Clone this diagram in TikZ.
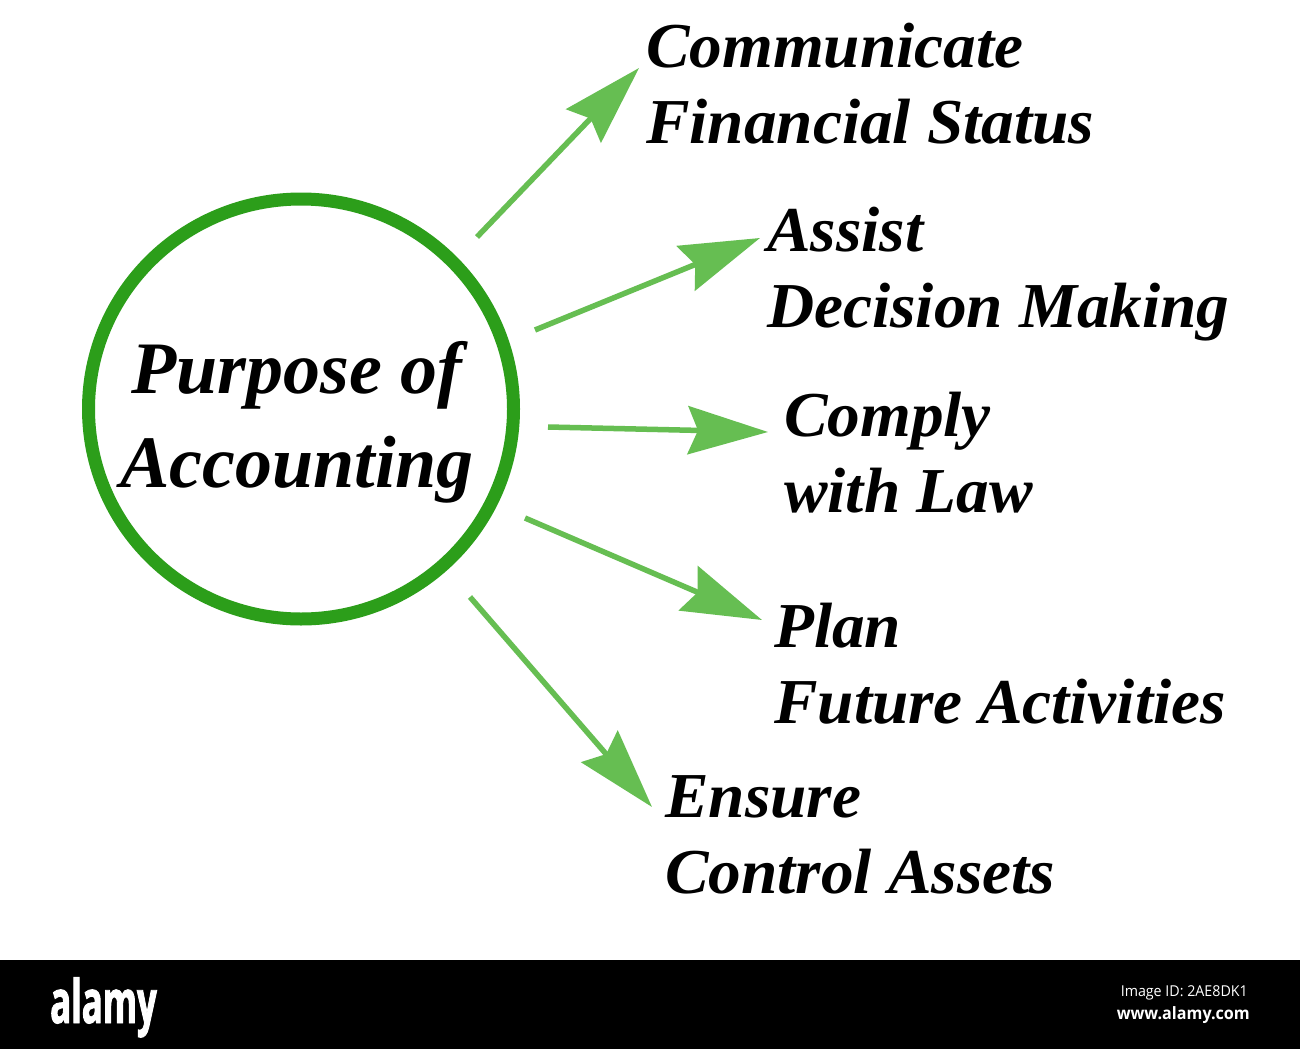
\documentclass[tikz,border=0pt]{standalone}
\usepackage{fontspec}
\setmainfont{Liberation Serif}
\newfontfamily\labelfont[FakeStretch=1.02]{Liberation Serif}
\newfontfamily\brandfont[FakeStretch=0.58,FakeBold=1.5]{Open Sans}
\newfontfamily\infofont[FakeStretch=0.95]{Open Sans}
\usetikzlibrary{arrows.meta,shapes.geometric}
\definecolor{ringgreen}{RGB}{44,158,26}
\definecolor{arrowgreen}{RGB}{102,190,82}
\tikzset{
  ring/.style={ellipse, draw=ringgreen, line width=13pt, minimum width=425pt, minimum height=420pt, inner sep=0pt},
  centertext/.style={font=\bfseries\itshape\fontsize{74}{94}\selectfont, align=center, inner sep=0pt, anchor=base},
  purpose/.style={font=\labelfont\bfseries\itshape\fontsize{64}{76}\selectfont, align=left, inner sep=0pt, anchor=base west},
  arrowline/.style={draw=arrowgreen, line width=5.5pt, -{Stealth[length=80pt, width=48pt, inset=10pt]}},
  wmtext/.style={text=white, inner sep=0pt}
}
\begin{document}
\begin{tikzpicture}[x=1pt,y=-1pt]
\useasboundingbox (0,0) rectangle (1300,1049);
\fill[white] (0,0) rectangle (1300,1049);
% central ring
\node[ring] (ring) at (301,409) {};
\node[centertext] (title) at (297,487) {Purpose of\\Accounting};
% purposes (anchor = baseline of the last line)
\node[purpose] (p1) at (646,143) {Communicate\\Financial Status};
\node[purpose] (p2) at (767,327) {Assist\\Decision Making};
\node[purpose] (p3) at (784,512) {Comply\\with Law};
\node[purpose] (p4) at (774,723) {Plan\\Future Activities};
\node[purpose] (p5) at (665,893) {Ensure\\Control Assets};
% arrow ends
\coordinate (t1) at (477,237); \coordinate (h1) at (639,68);
\coordinate (t2) at (535,330); \coordinate (h2) at (760,238);
\coordinate (t3) at (548,427); \coordinate (h3) at (768,432);
\coordinate (t4) at (525,518); \coordinate (h4) at (762,620);
\coordinate (t5) at (470,597); \coordinate (h5) at (652,807);
\draw[arrowline] (t1) -- (h1);
\draw[arrowline] (t2) -- (h2);
\draw[arrowline] (t3) -- (h3);
\draw[arrowline] (t4) -- (h4);
\draw[arrowline] (t5) -- (h5);
% bottom bar
\fill[black] (0,960) rectangle (1300,1049);
\node[wmtext, anchor=base west, font=\brandfont\bfseries\fontsize{60}{60}\selectfont] (brand) at (50,1023) {alamy};
\node[wmtext, anchor=base east, font=\infofont\fontsize{15}{15}\selectfont] (imgid) at (1248,996) {Image ID: 2AE8DK1};
\node[wmtext, anchor=base east, font=\infofont\bfseries\fontsize{17}{17}\selectfont] (site) at (1250,1019) {www.alamy.com};
\end{tikzpicture}
\end{document}
